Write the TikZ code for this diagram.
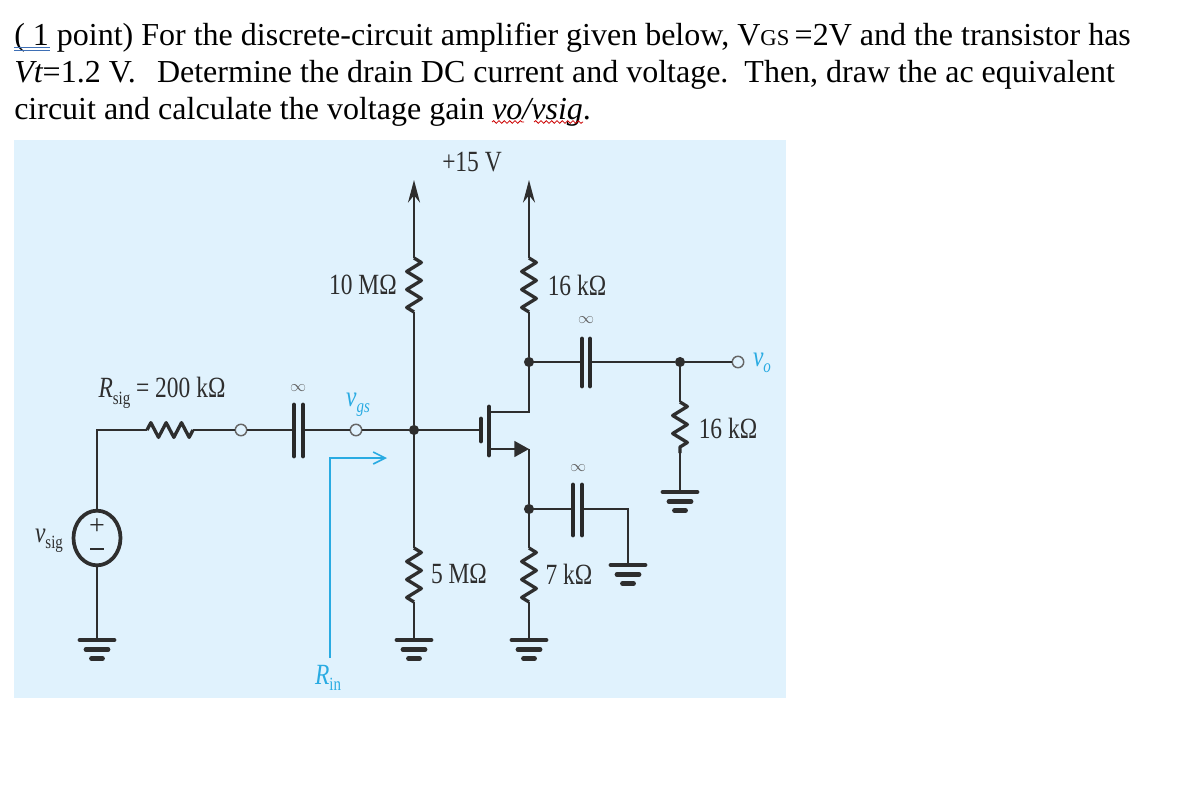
\documentclass[tikz,border=0pt]{standalone}
\usepackage{fontspec}
\setmainfont{Liberation Serif}
\newfontfamily\lblfont[FakeStretch=0.8]{Liberation Serif}
\usetikzlibrary{decorations.pathmorphing,arrows.meta}
\definecolor{panelbg}{HTML}{E0F2FD}
\definecolor{inkdark}{HTML}{2E2E2E}
\definecolor{cyanink}{HTML}{29ABE2}
\definecolor{wordblue}{HTML}{3E6FB5}
\tikzset{
  x=0.75pt,y=-0.75pt,
  wire/.style={line width=1.2pt,draw=inkdark},
  resistor/.style={line width=2.5pt,draw=inkdark,line join=round,decorate,decoration={zigzag,segment length=13.5pt,amplitude=5.5pt}},
  plate/.style={line width=3.6pt,draw=inkdark!90!black,line cap=round},
  dotnode/.style={circle,fill=inkdark,inner sep=0pt,minimum size=7.6pt},
  opennode/.style={circle,draw=gray!80!black,line width=1.1pt,fill=panelbg,inner sep=0pt,minimum size=8.6pt},
  lbl/.style={text=inkdark,inner sep=0pt,font=\lblfont\fontsize{22}{24}\selectfont},
  bluelbl/.style={text=cyanink,inner sep=0pt,font=\lblfont\fontsize{22}{24}\selectfont},
  inflbl/.style={text=gray!75!black,inner sep=0pt,font=\fontsize{13}{14}\selectfont},
  para/.style={anchor=base west,inner sep=0pt,text=black,font=\fontsize{24}{28}\selectfont},
  pics/earth/.style={code={
    \draw[line width=3.6pt,draw=inkdark,line cap=round] (-17,0) -- (17,0);
    \draw[line width=3.6pt,draw=inkdark,line cap=round] (-11,9.5) -- (11,9.5);
    \draw[line width=3.6pt,draw=inkdark,line cap=round] (-5.5,18.5) -- (5.5,18.5);
  }},
}
\newcommand{\subs}[1]{\raisebox{-0.22em}{\fontsize{14}{16}\selectfont #1}}
\begin{document}
\begin{tikzpicture}
\useasboundingbox (0,0) rectangle (1187,803);
\fill[white] (0,0) rectangle (1187,803);
\fill[panelbg] (14,140) rectangle (786,698);

% question text
\node[para] (line1) at (14,45) {( 1 point) For the discrete-circuit amplifier given below, V{\fontsize{17}{20}\selectfont GS}\,=2V and the transistor has};
\node[para] (line2) at (14,82) {{\itshape Vt}=1.2 V.\ \ \hspace{4pt}Determine the drain DC current and voltage.\ \ Then, draw the ac equivalent};
\node[para] (line3) at (14,119) {circuit and calculate the voltage gain {\itshape vo/vsig}.};
\draw[wordblue,line width=0.7pt] (14,47.5) -- (50,47.5) (14,50) -- (50,50);
\draw[red!80!black,line width=0.6pt,decorate,decoration={snake,segment length=4pt,amplitude=1pt}] (492,122) -- (524,122);
\draw[red!80!black,line width=0.6pt,decorate,decoration={snake,segment length=4pt,amplitude=1pt}] (534,122) -- (583,122);

% coordinates
\coordinate (topA) at (414,180);
\coordinate (topB) at (529,180);
\coordinate (r1top) at (414,258);
\coordinate (r1bot) at (414,312);
\coordinate (r2top) at (529,258);
\coordinate (r2bot) at (529,312);
\coordinate (r3top) at (414,548);
\coordinate (r3bot) at (414,602);
\coordinate (r4top) at (529,548);
\coordinate (r4bot) at (529,602);
\coordinate (gndA) at (414,640);
\coordinate (gndB) at (529,640);
\coordinate (gndC) at (628,565);
\coordinate (gndD) at (680,492);
\coordinate (gndS) at (97,640);
\coordinate (rLtop) at (680,402);
\coordinate (rLbot) at (680,453);
\coordinate (rsL) at (147,430);
\coordinate (rsR) at (193,430);
\coordinate (corner) at (97,430);
\coordinate (c1L) at (294,430);
\coordinate (c1R) at (303,430);
\coordinate (c2L) at (582,362);
\coordinate (c2R) at (590,362);
\coordinate (c3L) at (573,509);
\coordinate (c3R) at (582,509);
\coordinate (c3corner) at (628,509);
\coordinate (gatePlate) at (481,430);
\coordinate (chanD) at (489,412);
\coordinate (chanS) at (489,449);
\coordinate (drainC) at (529,412);
\coordinate (sourceC) at (529,449);
\coordinate (rinBot) at (330,658);
\coordinate (rinCorner) at (330,458);
\coordinate (rinTip) at (387,458);

% nodes
\node[dotnode] (gateDot) at (414,430) {};
\node[dotnode] (drainDot) at (529,362) {};
\node[dotnode] (sourceDot) at (529,509) {};
\node[dotnode] (loadDot) at (680,362) {};
\node[opennode] (in1) at (241,430) {};
\node[opennode] (in2) at (356,430) {};
\node[opennode] (vout) at (738,362) {};
\node[circle,draw=inkdark,line width=2.8pt,fill=panelbg,inner sep=0pt,minimum width=41pt,xscale=0.86] (src) at (97,538) {};

% wires
\draw[wire,-{Stealth[length=17pt,width=9pt]}] (r1top) -- (topA);
\draw[wire,-{Stealth[length=17pt,width=9pt]}] (r2top) -- (topB);
\draw[wire] (r1bot) -- (gateDot) -- (r3top);
\draw[wire] (r3bot) -- (gndA);
\draw[wire] (r2bot) -- (drainDot) -- (drainC) -- (chanD);
\draw[wire] (sourceDot) -- (sourceC);
\draw[wire] (sourceDot) -- (r4top);
\draw[wire] (r4bot) -- (gndB);
\draw[wire] (drainDot) -- (c2L);
\draw[wire] (c2R) -- (loadDot) -- (vout);
\draw[wire] (loadDot) -- (rLtop);
\draw[wire] (rLbot) -- (gndD);
\draw[wire] (sourceDot) -- (c3L);
\draw[wire] (c3R) -- (c3corner) -- (gndC);
\draw[wire] (src) -- (corner) -- (rsL);
\draw[wire] (rsR) -- (in1) -- (c1L);
\draw[wire] (c1R) -- (in2) -- (gateDot) -- (gatePlate);
\draw[wire] (src) -- (gndS);

% resistors
\draw[resistor] (r1top) -- (r1bot);
\draw[resistor] (r2top) -- (r2bot);
\draw[resistor] (r3top) -- (r3bot);
\draw[resistor] (r4top) -- (r4bot);
\draw[resistor] (rLtop) -- (rLbot);
\draw[resistor,decoration={zigzag,segment length=11.5pt,amplitude=5.5pt}] (rsL) -- (rsR);

% capacitors
\draw[plate] (294,405) -- (294,456);
\draw[plate] (303,405) -- (303,456);
\draw[plate] (582,339) -- (582,386);
\draw[plate] (590,339) -- (590,386);
\draw[plate] (573,485) -- (573,535);
\draw[plate] (582,485) -- (582,535);

% transistor
\draw[plate] (481,419) -- (481,441);
\draw[plate] (489,407) -- (489,455);
\draw[wire,-{Triangle[length=11pt,width=12pt]}] (chanS) -- (sourceC);

% grounds
\pic at (gndS) {earth};
\pic at (gndA) {earth};
\pic at (gndB) {earth};
\pic at (gndC) {earth};
\pic at (gndD) {earth};

% source polarity
\node[text=inkdark,inner sep=0pt,font=\fontsize{21}{22}\selectfont] (plus) at (97,527) {+};
\draw[inkdark,line width=0.9pt] (90,549) -- (104,549);

% Rin arrow
\draw[draw=cyanink,line width=1.2pt,-{Straight Barb[length=9pt,width=9pt]}] (rinBot) -- (rinCorner) -- (rinTip);

% labels
\node[lbl] (lp) at (472,162) {+15 V};
\node[lbl] (l10M) at (363,285) {10 MΩ};
\node[lbl] (l16a) at (577,285) {16 kΩ};
\node[lbl] (l16b) at (728,428) {16 kΩ};
\node[lbl] (l5M) at (459,574) {5 MΩ};
\node[lbl] (l7k) at (569,574) {7 kΩ};
\node[lbl] (lRs) at (162,393) {{\itshape R}\subs{sig} = 200 kΩ};
\node[lbl] (lvs) at (49,541) {{\itshape v}\subs{sig}};
\node[inflbl] (inf1) at (298,388) {\(\infty\)};
\node[inflbl] (inf2) at (586,320) {\(\infty\)};
\node[inflbl] (inf3) at (578,468) {\(\infty\)};
\node[bluelbl] (lvgs) at (358,405) {{\itshape v}\subs{\itshape gs}};
\node[bluelbl] (lvo) at (762,363) {{\itshape v}\subs{\itshape o}};
\node[bluelbl] (lRin) at (328,678) {{\itshape R}\subs{in}};
\end{tikzpicture}
\end{document}
